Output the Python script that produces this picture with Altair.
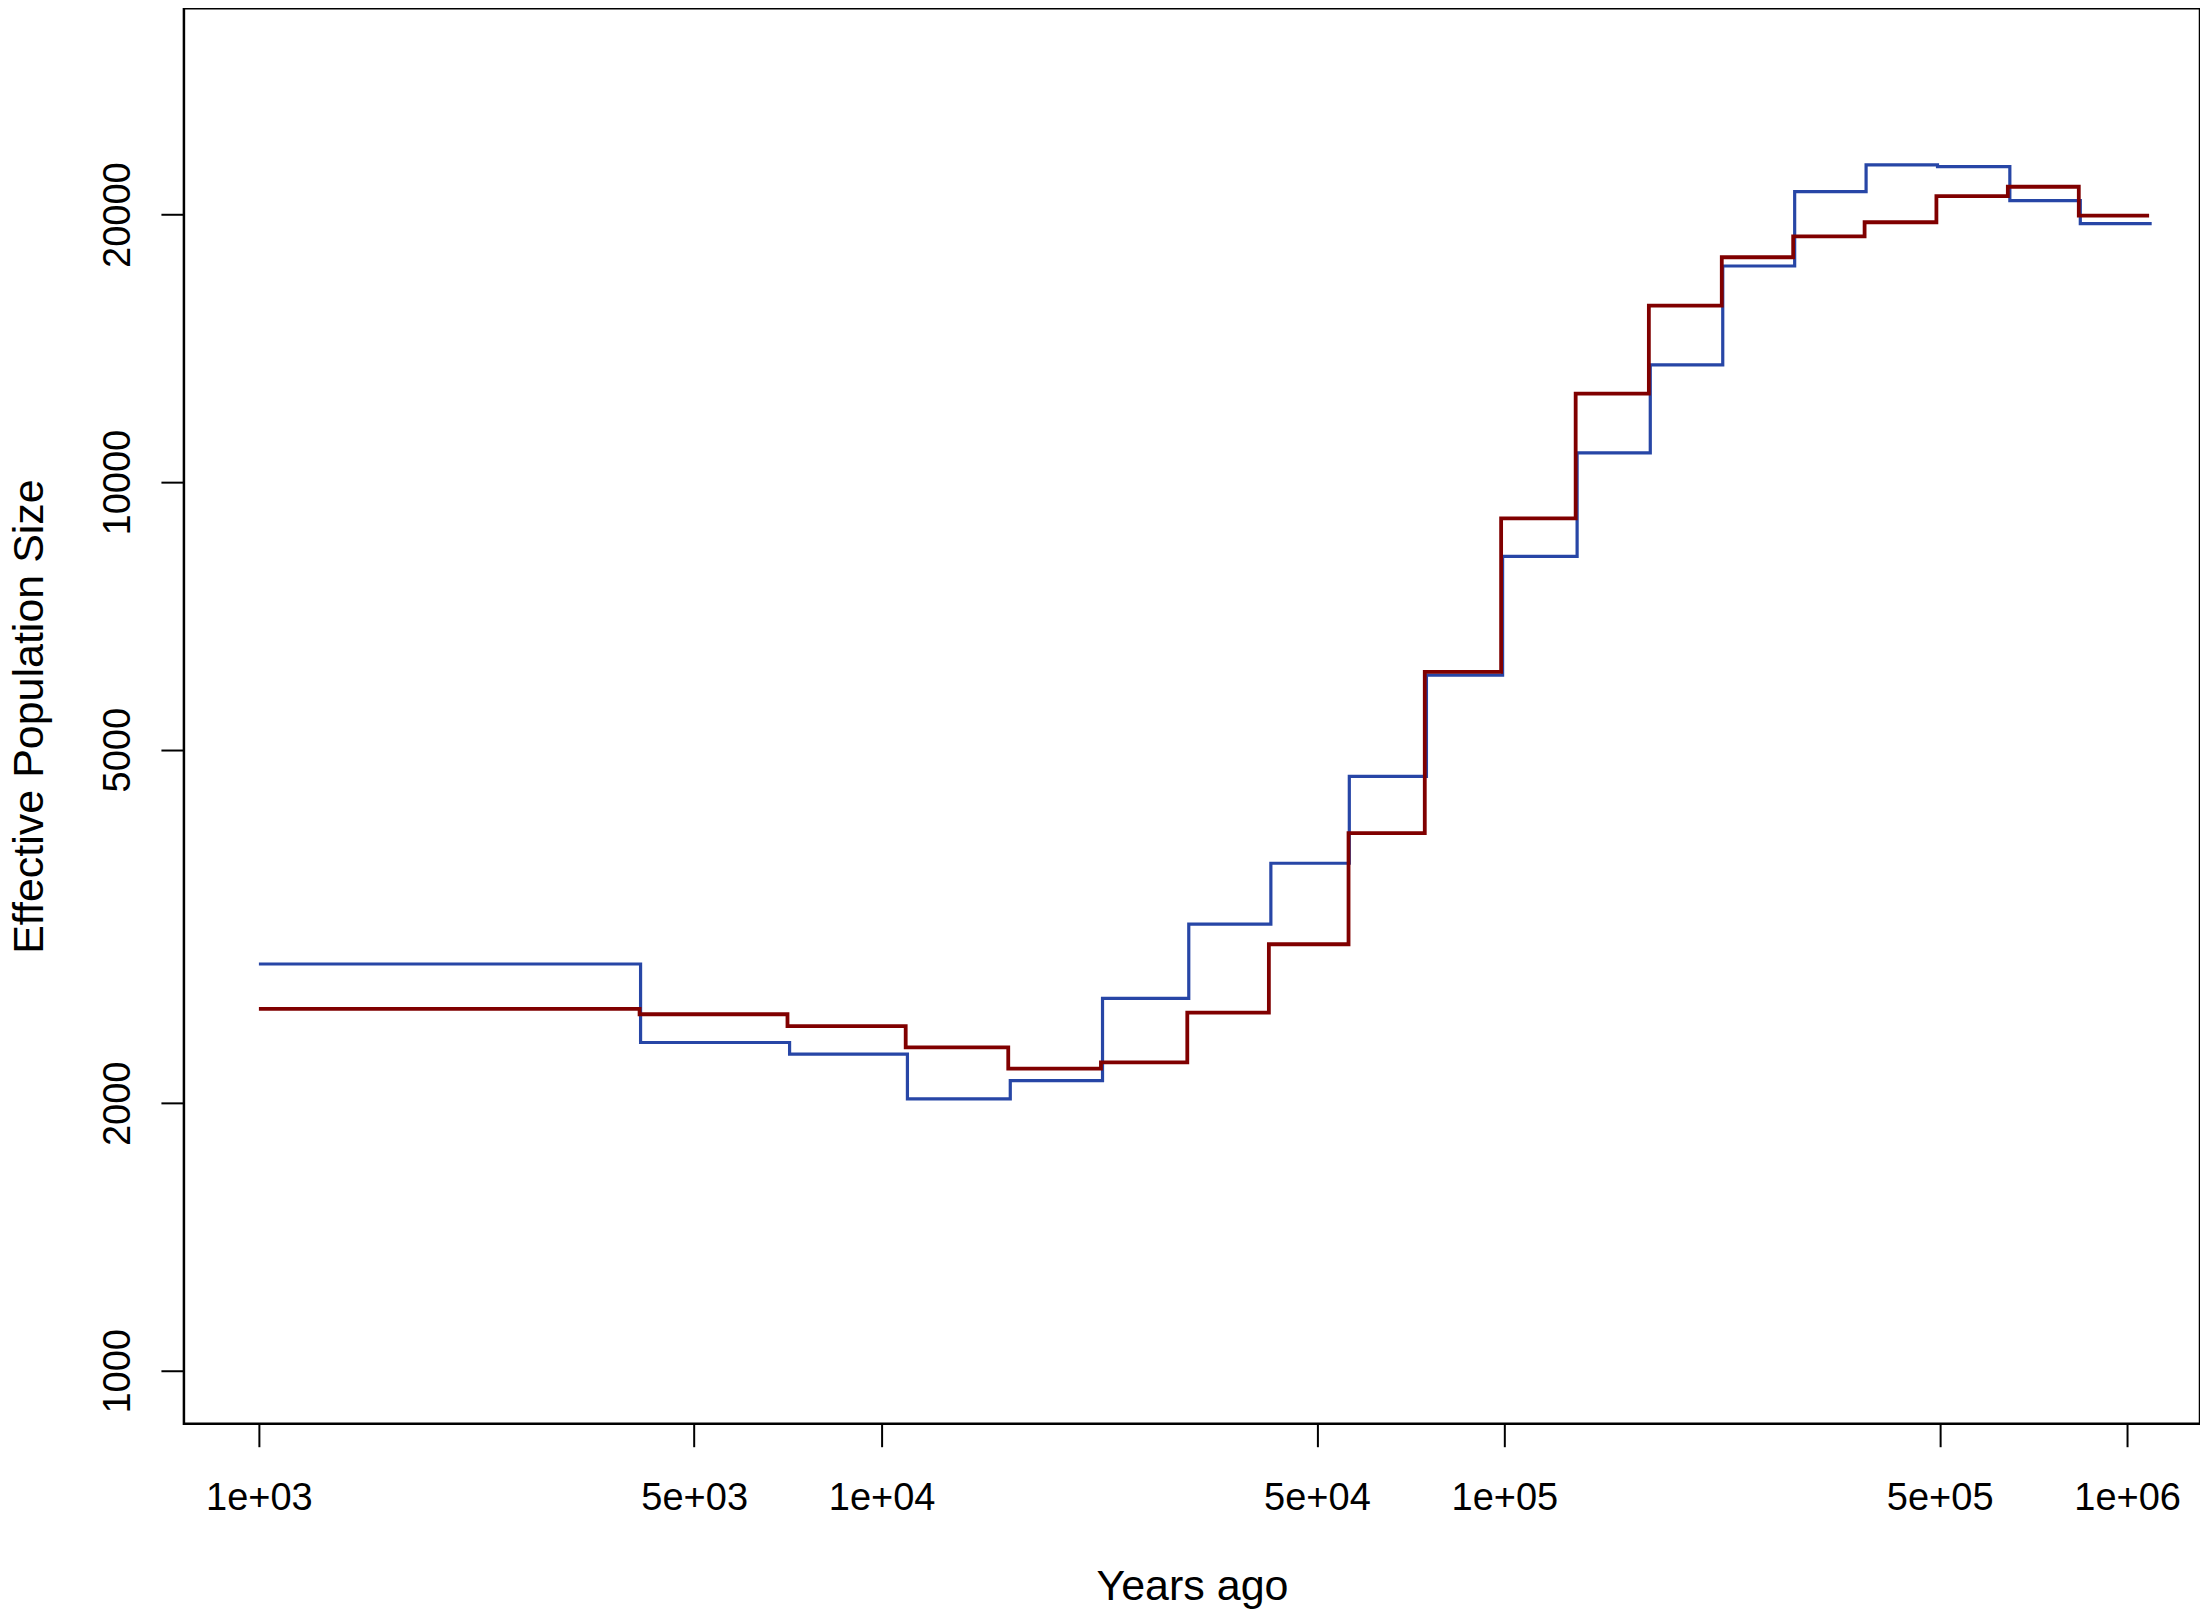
import altair as alt
import pandas as pd

# Blue series (step breakpoints, years ago) and Ne values
blue_years = [1000, 4101, 7115, 11000, 16090, 22630, 31130, 42170, 56360, 74960,
              99340, 130850, 171500, 224200, 292500, 380900, 496000, 648100, 841000, 1095000]
blue_ne = [2869, 2341, 2272, 2023, 2121, 2625, 3181, 3725, 4666, 6066,
           8249, 10790, 13550, 17510, 21230, 22750, 22650, 20740, 19540, 19540]

# Red series
red_years = [1000, 4086, 7060, 10930, 15970, 22500, 30960, 41860, 56200, 74500,
             98800, 130150, 170600, 223400, 290900, 378800, 494000, 643300, 836300, 1084600]
red_ne = [2554, 2519, 2443, 2312, 2188, 2224, 2530, 3020, 4027, 6117,
          9105, 12580, 15800, 17910, 18910, 19610, 20990, 21500, 19950, 19950]

x_ticks = [1000, 5000, 10000, 50000, 100000, 500000, 1000000]
x_tick_labels = ["1e+03", "5e+03", "1e+04", "5e+04", "1e+05", "5e+05", "1e+06"]
y_ticks = [1000, 2000, 5000, 10000, 20000]

x_domain = [10 ** 2.8796, 10 ** 6.117]
y_domain = [10 ** 2.9404, 10 ** 4.5332]

df = pd.DataFrame(
    {"years": blue_years + red_years,
     "ne": blue_ne + red_ne,
     "series": ["blue"] * len(blue_years) + ["red"] * len(red_years)}
)

label_expr = "{" + ",".join(f"'{v}':'{l}'" for v, l in zip(x_ticks, x_tick_labels)) + "}[datum.value]"

FONT = "Liberation Sans"

x_enc = alt.X(
    "years:Q",
    scale=alt.Scale(type="log", domain=x_domain, nice=False, zero=False),
    axis=alt.Axis(
        values=x_ticks, labelExpr=label_expr, title="Years ago",
        domain=False, grid=False, tickColor="black", tickWidth=2, tickSize=23,
        labelFont=FONT, labelFontSize=38, labelColor="black", labelPadding=33,
        labelBaseline="top", labelFlush=False, labelOverlap=False,
        titleFont=FONT, titleFontSize=43, titleFontWeight="normal", titleColor="black",
        titleBaseline="alphabetic", titleY=176,
    ),
)
y_enc = alt.Y(
    "ne:Q",
    scale=alt.Scale(type="log", domain=y_domain, nice=False, zero=False),
    axis=alt.Axis(
        values=y_ticks, format="d", title="Effective Population Size",
        domain=False, grid=False, tickColor="black", tickWidth=2, tickSize=23,
        labelFont=FONT, labelFontSize=38, labelColor="black", labelAngle=270,
        labelAlign="center", labelBaseline="alphabetic", labelPadding=31,
        labelFlush=False, labelOverlap=False,
        titleFont=FONT, titleFontSize=43, titleFontWeight="normal", titleColor="black",
        titleAngle=270, titleBaseline="alphabetic", titleX=-141,
    ),
)

chart = (
    alt.Chart(df)
    .mark_line(interpolate="step-after", clip=True)
    .encode(
        x=x_enc,
        y=y_enc,
        color=alt.Color("series:N", scale=alt.Scale(domain=["blue", "red"], range=["#2746A6", "#800000"]), legend=None),
        strokeWidth=alt.StrokeWidth("series:N", scale=alt.Scale(domain=["blue", "red"], range=[3.2, 3.8]), legend=None),
        detail="series:N",
    )
    .properties(
        width=2017, height=1416,
        autosize=alt.AutoSizeParams(type="none"),
        padding={"left": 176, "top": 0, "right": 0, "bottom": 186},
        background="white",
    )
    .configure_view(stroke="black", strokeWidth=2.5)
)

chart.save("out.html", embed_options={"renderer": "svg", "actions": False})
